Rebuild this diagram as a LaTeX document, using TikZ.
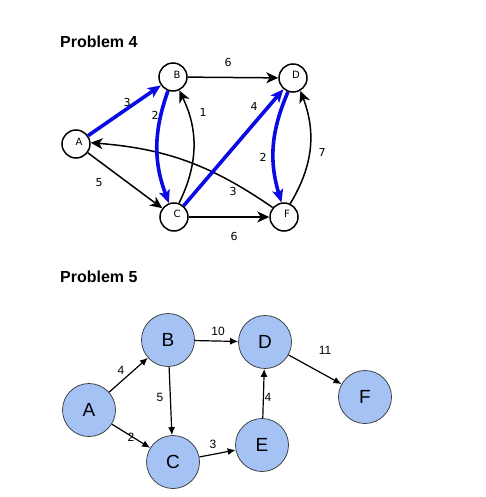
\documentclass[tikz,border=0pt]{standalone}
\usepackage{fontspec}
\setmainfont{Liberation Sans}
\newfontfamily\dvs{DejaVu Sans}
\usetikzlibrary{arrows.meta,calc}
\definecolor{nblue}{HTML}{A4C2F4}
\definecolor{eblue}{HTML}{0A0AE6}
\begin{document}
\begin{tikzpicture}[x=1pt,y=-1pt,
  title/.style={font=\fontsize{16}{18}\selectfont\bfseries, anchor=west, inner sep=0pt},
  cfour/.style={circle, draw=black, line width=1.5pt, fill=white, minimum size=28pt, inner sep=0pt},
  nlbl/.style={font=\dvs\fontsize{10}{12}\selectfont, inner sep=0pt},
  elfour/.style={font=\dvs\fontsize{11}{13}\selectfont, inner sep=0pt},
  bk/.style={draw=black, line width=1.5pt, -{Stealth[length=12pt,width=11pt,inset=3.5pt]}},
  bl/.style={draw=eblue, line width=3.6pt, -{Stealth[length=13pt,width=11pt,inset=3pt]}},
  cfive/.style={circle, draw=black!80, line width=0.7pt, fill=nblue, minimum size=53pt, inner sep=0pt, font=\fontsize{19}{22}\selectfont},
  elfive/.style={font=\fontsize{12}{14}\selectfont, inner sep=0pt},
  ar/.style={draw=black, line width=1.2pt, -{Latex[length=8pt,width=7pt]}}
]
\useasboundingbox[fill=white] (0,0) rectangle (486,497);

% ---------- Problem 4 ----------
\node[title] (t4) at (60,42) {Problem 4};
\node[cfour] (A) at (76,144) {};
\node[cfour] (B) at (173,77) {};
\node[cfour] (D) at (293,78) {};
\node[cfour] (C) at (174,217) {};
\node[cfour] (F) at (284,217) {};
\node[nlbl] (lA) at ($(A)+(3,-2)$) {A};
\node[nlbl] (lB) at ($(B)+(4,-2)$) {B};
\node[nlbl] (lD) at ($(D)+(3,-3)$) {D};
\node[nlbl] (lC) at ($(C)+(3,-3)$) {C};
\node[nlbl] (lF) at ($(F)+(3,-3)$) {F};

\draw[bk] (B) -- (D);
\draw[bk] (A) -- (C);
\draw[bk] (C) -- (F);
\draw[bk] (C.70) to[bend right=26] (B.-65);
\draw[bk] (F.65) to[bend right=26] (D.-60);
\draw[bk] (F.140) to[bend right=15] (A.5);
\draw[bl] (A) -- (B);
\draw[bl] (C) -- (D);
\draw[bl] (B.-110) to[bend right=20] (C.110);
\draw[bl] (D.-110) to[bend right=20] (F.100);

\node[elfour] (e1) at (127,102) {3};
\node[elfour] (e2) at (155,115) {2};
\node[elfour] (e3) at (203,112) {1};
\node[elfour] (e4) at (228,62) {6};
\node[elfour] (e5) at (254,106) {4};
\node[elfour] (e6) at (322,152) {7};
\node[elfour] (e7) at (263,157) {2};
\node[elfour] (e8) at (99,183) {5};
\node[elfour] (e9) at (233,191) {3};
\node[elfour] (e10) at (234,236) {6};

% ---------- Problem 5 ----------
\node[title] (t5) at (60,277) {Problem 5};
\node[cfive] (pA) at (89,410) {A};
\node[cfive] (pB) at (168,340) {B};
\node[cfive] (pD) at (265,342) {D};
\node[cfive] (pF) at (365,397) {F};
\node[cfive] (pC) at (173,462) {C};
\node[cfive] (pE) at (262,445) {E};

\draw[ar] (pA) -- (pB);
\draw[ar] (pA) -- (pC);
\draw[ar] (pB) -- (pC);
\draw[ar] (pB) -- (pD);
\draw[ar] (pC) -- (pE);
\draw[ar] (pE) -- (pD);
\draw[ar] (pD) -- (pF);

\node[elfive] (f1) at (121,370) {4};
\node[elfive] (f2) at (131,437) {2};
\node[elfive] (f3) at (160,397) {5};
\node[elfive] (f4) at (218,331) {10};
\node[elfive] (f5) at (213,444) {3};
\node[elfive] (f6) at (268,397) {4};
\node[elfive] (f7) at (325,350) {11};
\end{tikzpicture}
\end{document}
